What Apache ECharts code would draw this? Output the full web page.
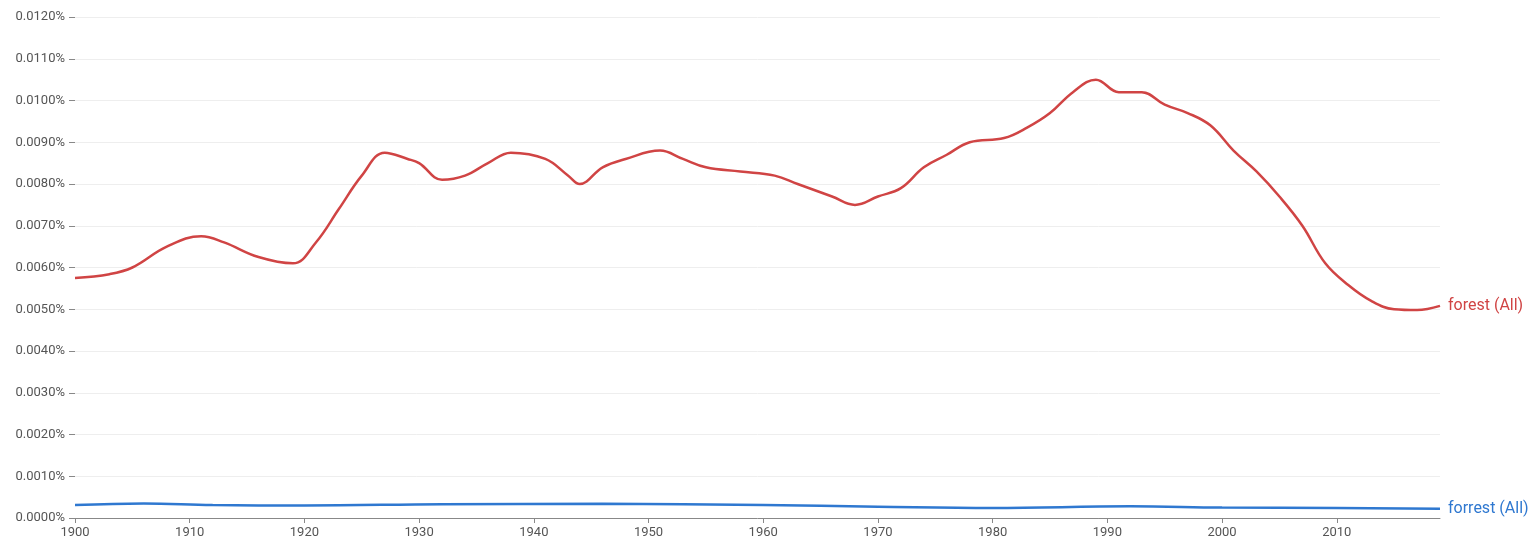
<!DOCTYPE html>
<html>
<head>
<meta charset="utf-8">
<script src="https://cdn.jsdelivr.net/npm/echarts@6/dist/echarts.min.js"></script>
<style>html,body{margin:0;padding:0;background:#fff}#chart{width:1536px;height:544px}</style>
</head>
<body>
<div id="chart"></div>
<script>
// values in percent
var forestYears = [1900,1903,1905,1908,1911,1913,1916,1919,1921,1923,1925,1927,1929,1930,1932,1934,1936,1938,1941,1943,1944,1946,1948,1951,1953,1955,1958,1961,1963,1966,1968,1970,1972,1974,1976,1978,1981,1983,1985,1987,1989,1991,1993,1995,1997,1999,2001,2003,2005,2007,2009,2011,2013,2015,2017,2019];
var forestValues = [0.00575,0.00584,0.0060,0.0065,0.00675,0.0066,0.00625,0.0061,0.0066,0.0074,0.0082,0.00875,0.0086,0.0085,0.0081,0.0082,0.0085,0.00875,0.0086,0.0082,0.0080,0.0084,0.0086,0.0088,0.0086,0.0084,0.0083,0.0082,0.0080,0.0077,0.0075,0.0077,0.0079,0.0084,0.0087,0.0090,0.0091,0.00935,0.0097,0.0102,0.0105,0.0102,0.0102,0.0099,0.0097,0.0094,0.0088,0.0083,0.0077,0.0070,0.0061,0.00558,0.0052,0.0050,0.00498,0.00508];
var forrestYears = [1900,1906,1912,1920,1932,1946,1960,1970,1980,1992,2000,2010,2019];
var forrestValues = [0.00031,0.00035,0.00031,0.00030,0.00033,0.00034,0.00031,0.00027,0.00024,0.00028,0.00025,0.00024,0.00022];
var yTicks = [0, 0.012, 0.001];

function pairs(xs, ys) {
    var out = [];
    for (var i = 0; i < xs.length; i++) out.push([xs[i], ys[i]]);
    return out;
}

var chart = echarts.init(document.getElementById('chart'));
chart.setOption({
    animation: false,
    grid: {left: 75, right: 96, top: 17, bottom: 26},
    xAxis: {
        type: 'value', min: 1900, max: 2019, interval: 10,
        axisLine: {lineStyle: {color: '#888'}},
        axisTick: {show: true, length: 5, lineStyle: {color: '#888'}},
        axisLabel: {color: '#555', fontSize: 13, fontFamily: 'Roboto', showMaxLabel: false,
            formatter: function(v){ return String(v); }},
        splitLine: {show: false}
    },
    yAxis: {
        type: 'value', min: yTicks[0], max: yTicks[1], interval: yTicks[2],
        axisLine: {show: false},
        axisTick: {show: true, length: 6, lineStyle: {color: '#888'}},
        axisLabel: {color: '#555', fontSize: 13, fontFamily: 'Roboto', margin: 10,
            formatter: function(v){ return v.toFixed(4) + '%'; }},
        splitLine: {lineStyle: {color: '#eee'}}
    },
    series: [{
        name: 'forest (All)', type: 'line', smooth: 0.4, symbol: 'none',
        data: pairs(forestYears, forestValues),
        lineStyle: {color: '#d04444', width: 2.5}, itemStyle: {color: '#d04444'},
        endLabel: {show: true, formatter: 'forest (All)', color: '#d04444', fontSize: 16, fontFamily: 'Roboto'}
    }, {
        name: 'forrest (All)', type: 'line', smooth: 0.4, symbol: 'none',
        data: pairs(forrestYears, forrestValues),
        lineStyle: {color: '#2f78d0', width: 2.5}, itemStyle: {color: '#2f78d0'},
        endLabel: {show: true, formatter: 'forrest (All)', color: '#2f78d0', fontSize: 16, fontFamily: 'Roboto'}
    }]
});
</script>
</body>
</html>
